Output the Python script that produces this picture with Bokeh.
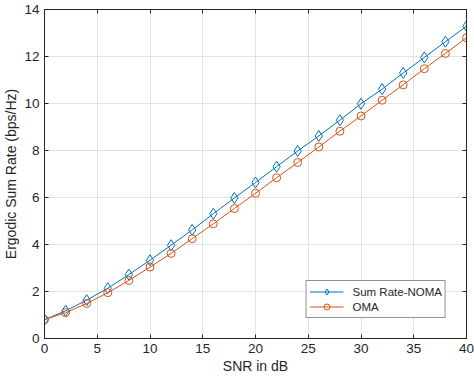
from bokeh.plotting import figure
from bokeh.models import LinearAxis, Range1d, FixedTicker, Legend, LegendItem
from bokeh.embed import file_html
from bokeh.resources import INLINE

# ---- data ----
snr_db = [0, 2, 4, 6, 8, 10, 12, 14, 16, 18, 20, 22, 24, 26, 28, 30, 32, 34, 36, 38, 40]
noma_rate = [0.80, 1.18, 1.63, 2.14, 2.72, 3.33, 3.97, 4.62, 5.31, 5.98, 6.64,
             7.31, 7.98, 8.62, 9.29, 9.99, 10.61, 11.30, 11.96, 12.63, 13.29]
oma_rate = [0.80, 1.10, 1.49, 1.95, 2.47, 3.04, 3.62, 4.25, 4.88, 5.53, 6.18,
            6.84, 7.49, 8.15, 8.82, 9.47, 10.14, 10.79, 11.48, 12.13, 12.80]
x_ticks = [0, 5, 10, 15, 20, 25, 30, 35, 40]
y_ticks = [0, 2, 4, 6, 8, 10, 12, 14]

FONT = "Liberation Sans"
AX = "#262626"
BLUE = "#0072BD"
ORANGE = "#D95319"

p = figure(width=474, height=379, output_backend="svg", toolbar_location=None,
           x_range=Range1d(0, 40), y_range=Range1d(0, 14),
           min_border_left=40, min_border_right=8, min_border_top=9, min_border_bottom=41,
           background_fill_color="white", border_fill_color="white")

p.outline_line_color = AX
p.outline_line_width = 1

def style_axis(ax):
    ax.axis_line_color = AX
    ax.major_tick_line_color = AX
    ax.major_tick_in = 4
    ax.major_tick_out = 0
    ax.minor_tick_line_color = None
    ax.major_label_text_font = FONT
    ax.major_label_text_color = AX
    ax.major_label_text_font_size = "13.5px"

p.xaxis.ticker = FixedTicker(ticks=x_ticks)
p.yaxis.ticker = FixedTicker(ticks=y_ticks)
for ax in p.xaxis + p.yaxis:
    style_axis(ax)
p.xaxis.major_label_standoff = 5
p.yaxis.major_label_standoff = 5
p.xaxis.axis_label = "SNR in dB"
p.yaxis.axis_label = "Ergodic Sum Rate (bps/Hz)"
for ax in p.xaxis + p.yaxis:
    ax.axis_label_text_font = FONT
    ax.axis_label_text_font_style = "normal"
    ax.axis_label_text_font_size = "14px"
    ax.axis_label_text_color = AX
    ax.axis_label_standoff = 2

# mirrored tick marks on the top and right edges (no labels)
top_ax = LinearAxis(ticker=FixedTicker(ticks=x_ticks),
                    major_label_overrides={t: "" for t in x_ticks})
right_ax = LinearAxis(ticker=FixedTicker(ticks=y_ticks),
                      major_label_overrides={t: "" for t in y_ticks})
for ax in (top_ax, right_ax):
    style_axis(ax)
    ax.major_label_standoff = 0
p.add_layout(top_ax, "above")
p.add_layout(right_ax, "right")

p.xgrid.ticker = FixedTicker(ticks=x_ticks)
p.ygrid.ticker = FixedTicker(ticks=y_ticks)
p.grid.grid_line_color = "#e3e3e3"
p.grid.grid_line_width = 1

l1 = p.line(snr_db, noma_rate, line_color=BLUE, line_width=1)
s1 = p.scatter(snr_db, noma_rate, marker="diamond", size=11, line_color=BLUE,
               fill_color=None, line_width=1)
l2 = p.line(snr_db, oma_rate, line_color=ORANGE, line_width=1)
s2 = p.scatter(snr_db, oma_rate, marker="circle", size=8, line_color=ORANGE,
               fill_color=None, line_width=1)

legend = Legend(items=[LegendItem(label="Sum Rate-NOMA", renderers=[l1, s1]),
                       LegendItem(label="OMA", renderers=[l2, s2])],
                location="bottom_right", margin=20, padding=3, spacing=0,
                glyph_width=34, glyph_height=15, label_height=15, label_standoff=9,
                label_text_font=FONT, label_text_font_size="11.5px", label_text_color=AX,
                border_line_color=AX, border_line_width=1,
                background_fill_color="white", background_fill_alpha=1)
p.add_layout(legend)

open("out.html", "w").write(file_html(p, INLINE))
